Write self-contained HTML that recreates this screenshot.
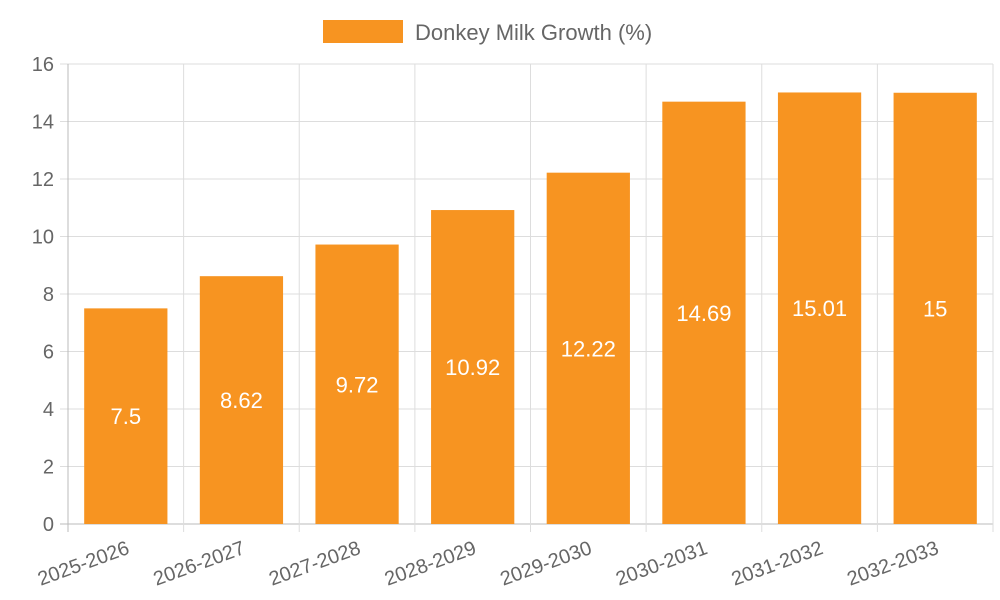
<!DOCTYPE html>
<html><head><meta charset="utf-8"><style>
html,body{margin:0;padding:0;background:#fff;}
svg{display:block;font-family:"Liberation Sans",sans-serif;}
</style></head><body>
<svg id="chart" width="1000" height="600">
<g id="legend">
<rect x="323" y="20" width="80" height="23" fill="#f79421"></rect>
<text x="415" y="40" font-size="22" fill="#666">Donkey Milk Growth (%)</text>
</g>
<g id="grid"></g><g id="bars"></g><g id="labels"></g>
</svg>
<script>
const categories=["2025-2026","2026-2027","2027-2028","2028-2029","2029-2030","2030-2031","2031-2032","2032-2033"];
const values=[7.5,8.62,9.72,10.92,12.22,14.69,15.01,15];
const yTicks=[0,2,4,6,8,10,12,14,16];
const L=68,R=993,T=64,B=524,yMax=16;
const NS="http://www.w3.org/2000/svg";
const bw=(R-L)/categories.length;
const x=i=>L+bw*i;
const y=v=>B-(v/yMax)*(B-T);
function mk(parent,tag,attrs){const e=document.createElementNS(NS,tag);for(const k in attrs)e.setAttribute(k,attrs[k]);document.getElementById(parent).appendChild(e);return e;}
yTicks.forEach(t=>{
  const g=mk('grid','line',{x1:L-8,x2:R,y1:y(t),y2:y(t),stroke:t===0?'#bbb':'#ddd','stroke-width':1});
  
  
  const tx=mk('grid','text',{x:L-14,y:y(t)+7,'text-anchor':'end','font-size':20,fill:'#666'});
  tx.textContent=t;
  
  
});
for(let i=0;i<=categories.length;i++){
  const g=mk('grid','line',{x1:x(i),x2:x(i),y1:T,y2:B+8,stroke:i===0?'#bbb':'#ddd','stroke-width':1});
  
  
}
categories.forEach((c,i)=>{
  const cx=x(i)+bw/2,w=bw*0.72,v=values[i];
  const r=mk('bars','rect',{x:cx-w/2,y:y(v),width:w,height:B-y(v),fill:'#f79421'});
  
  
  const t=mk('labels','text',{x:cx,y:(y(v)+B)/2+8,'text-anchor':'middle','font-size':22,fill:'#fff'});
  t.textContent=v;
  
  
  const xl=mk('labels','text',{x:cx,y:B+16,'text-anchor':'end','font-size':20,fill:'#666',transform:`rotate(-20 ${cx} ${B+16}) translate(0 14)`});
  xl.textContent=c;
  
  
});
</script>
</body></html>
